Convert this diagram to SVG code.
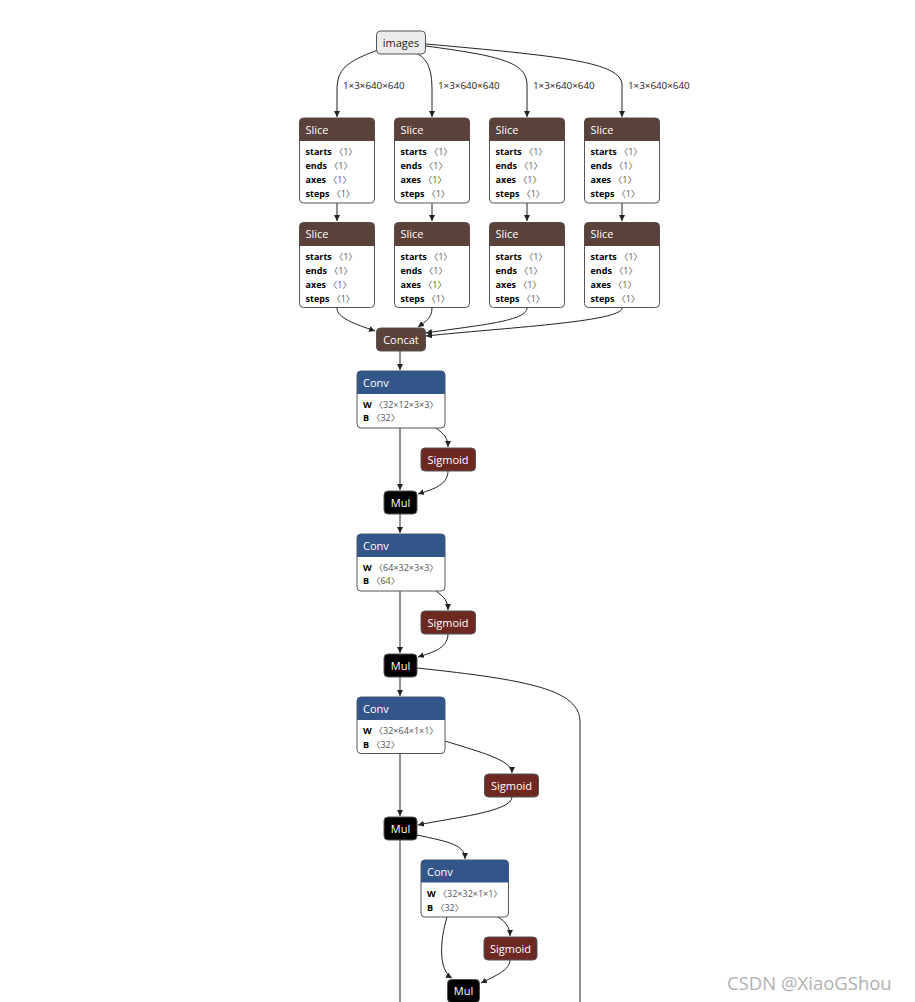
<svg xmlns="http://www.w3.org/2000/svg" width="915" height="1002" viewBox="0 0 915 1002">
<style>
text{font-family:"Open Sans","Noto Sans","Liberation Sans","Noto Sans CJK SC",sans-serif}
.bg{fill:#fff}
.box{fill:#fff;stroke:#555;stroke-width:1}
.hdr{stroke:none}
.slice{fill:#5a4139}
.conv{fill:#33568a}
.sig{fill:#6e2822;stroke:#555;stroke-width:1}
.mul{fill:#000;stroke:#555;stroke-width:1}
.cat{fill:#5a4139;stroke:#555;stroke-width:1}
.inp{fill:#ececec;stroke:#555;stroke-width:1}
.t{font-size:11px;fill:#fff}
.ti{font-size:11px;fill:#222}
.a{font-size:9px;fill:#000}
.an{font-weight:bold}
.av{fill:#555}
.el{font-size:9.8px;fill:#222}
.e{fill:none;stroke:#222;stroke-width:1;marker-end:url(#ah)}
.wm{font-size:18.5px;fill:#b0b0b0}
</style>
<defs>
<marker id="ah" markerWidth="7" markerHeight="7" refX="6" refY="3" orient="auto" markerUnits="userSpaceOnUse">
<path d="M0,0 L6,3 L0,6 Z" fill="#222"/>
</marker>
</defs>
<rect x="0" y="0" width="915" height="1002" class="bg"/>

<g id="connectors">
<path class="e" d="M378,50 C345,62 337,70 337,90 L337,117"/>
<path class="e" d="M418,54 C428,60 432,70 432,90 L432,117"/>
<path class="e" d="M426,46 C500,56 527,62 527,85 L527,117"/>
<path class="e" d="M426,44 C560,56 622,62 622,85 L622,117"/>
<path class="e" d="M337,203 L337,221"/>
<path class="e" d="M432,203 L432,221"/>
<path class="e" d="M527,203 L527,221"/>
<path class="e" d="M622,203 L622,221"/>
<path class="e" d="M337,308 C337,318 355,324 375,331"/>
<path class="e" d="M432,308 C432,318 425,322 418,327"/>
<path class="e" d="M527,308 C527,322 470,326 426,333"/>
<path class="e" d="M622,308 C622,322 500,328 426,336"/>
<path class="e" d="M400,351 L400,370"/>
<path class="e" d="M400,428 L400,490"/>
<path class="e" d="M436,428 C444,434 448,438 448,447"/>
<path class="e" d="M448,471 C448,486 430,490 418,494"/>
<path class="e" d="M400,514 L400,533"/>
<path class="e" d="M400,591 L400,653"/>
<path class="e" d="M436,591 C444,597 448,601 448,610"/>
<path class="e" d="M448,634 C448,649 430,653 418,657"/>
<path class="e" d="M400,677 L400,696"/>
<path fill="none" stroke="#222" stroke-width="1" d="M417,668 C530,680 580,690 580,722 L580,1002"/>
<path class="e" d="M400,753 L400,816"/>
<path class="e" d="M445,741 C480,752 512,760 512,773"/>
<path class="e" d="M512,797 C512,812 450,818 418,825"/>
<path fill="none" stroke="#222" stroke-width="1" d="M400,840 L400,1002"/>
<path class="e" d="M417,835 C450,842 465,845 465,859"/>
<path class="e" d="M447,917 C440,940 438,970 452,978"/>
<path class="e" d="M498,917 C506,922 510,928 510,936"/>
<path class="e" d="M510,960 C510,970 495,976 481,983"/>
<text class="el" x="343" y="88.5">1×3×640×640</text>
<text class="el" x="438" y="88.5">1×3×640×640</text>
<text class="el" x="533" y="88.5">1×3×640×640</text>
<text class="el" x="628" y="88.5">1×3×640×640</text>
</g>

<g id="images">
<rect class="inp" x="376.5" y="31" width="49" height="23" rx="4"/>
<text class="ti" x="401" y="46.5" text-anchor="middle">images</text>
</g>

<g id="slice1a">
<rect class="box" x="299.5" y="118" width="75" height="85" rx="4"/>
<path class="hdr slice" d="M299.5,141 V122 a4,4 0 0 1 4,-4 H370.5 a4,4 0 0 1 4,4 V141 Z"/>
<text class="t" x="305.5" y="133.5">Slice</text>
<text class="a" x="305.5" y="155"><tspan class="an">starts</tspan><tspan class="av"> 〈1〉</tspan></text>
<text class="a" x="305.5" y="169"><tspan class="an">ends</tspan><tspan class="av"> 〈1〉</tspan></text>
<text class="a" x="305.5" y="183"><tspan class="an">axes</tspan><tspan class="av"> 〈1〉</tspan></text>
<text class="a" x="305.5" y="197"><tspan class="an">steps</tspan><tspan class="av"> 〈1〉</tspan></text>
</g>
<g id="slice2a">
<rect class="box" x="394.5" y="118" width="75" height="85" rx="4"/>
<path class="hdr slice" d="M394.5,141 V122 a4,4 0 0 1 4,-4 H465.5 a4,4 0 0 1 4,4 V141 Z"/>
<text class="t" x="400.5" y="133.5">Slice</text>
<text class="a" x="400.5" y="155"><tspan class="an">starts</tspan><tspan class="av"> 〈1〉</tspan></text>
<text class="a" x="400.5" y="169"><tspan class="an">ends</tspan><tspan class="av"> 〈1〉</tspan></text>
<text class="a" x="400.5" y="183"><tspan class="an">axes</tspan><tspan class="av"> 〈1〉</tspan></text>
<text class="a" x="400.5" y="197"><tspan class="an">steps</tspan><tspan class="av"> 〈1〉</tspan></text>
</g>
<g id="slice3a">
<rect class="box" x="489.5" y="118" width="75" height="85" rx="4"/>
<path class="hdr slice" d="M489.5,141 V122 a4,4 0 0 1 4,-4 H560.5 a4,4 0 0 1 4,4 V141 Z"/>
<text class="t" x="495.5" y="133.5">Slice</text>
<text class="a" x="495.5" y="155"><tspan class="an">starts</tspan><tspan class="av"> 〈1〉</tspan></text>
<text class="a" x="495.5" y="169"><tspan class="an">ends</tspan><tspan class="av"> 〈1〉</tspan></text>
<text class="a" x="495.5" y="183"><tspan class="an">axes</tspan><tspan class="av"> 〈1〉</tspan></text>
<text class="a" x="495.5" y="197"><tspan class="an">steps</tspan><tspan class="av"> 〈1〉</tspan></text>
</g>
<g id="slice4a">
<rect class="box" x="584.5" y="118" width="75" height="85" rx="4"/>
<path class="hdr slice" d="M584.5,141 V122 a4,4 0 0 1 4,-4 H655.5 a4,4 0 0 1 4,4 V141 Z"/>
<text class="t" x="590.5" y="133.5">Slice</text>
<text class="a" x="590.5" y="155"><tspan class="an">starts</tspan><tspan class="av"> 〈1〉</tspan></text>
<text class="a" x="590.5" y="169"><tspan class="an">ends</tspan><tspan class="av"> 〈1〉</tspan></text>
<text class="a" x="590.5" y="183"><tspan class="an">axes</tspan><tspan class="av"> 〈1〉</tspan></text>
<text class="a" x="590.5" y="197"><tspan class="an">steps</tspan><tspan class="av"> 〈1〉</tspan></text>
</g>

<g id="slice1b">
<rect class="box" x="299.5" y="222.5" width="75" height="85" rx="4"/>
<path class="hdr slice" d="M299.5,246 V226.5 a4,4 0 0 1 4,-4 H370.5 a4,4 0 0 1 4,4 V246 Z"/>
<text class="t" x="305.5" y="238">Slice</text>
<text class="a" x="305.5" y="260"><tspan class="an">starts</tspan><tspan class="av"> 〈1〉</tspan></text>
<text class="a" x="305.5" y="274"><tspan class="an">ends</tspan><tspan class="av"> 〈1〉</tspan></text>
<text class="a" x="305.5" y="288"><tspan class="an">axes</tspan><tspan class="av"> 〈1〉</tspan></text>
<text class="a" x="305.5" y="302"><tspan class="an">steps</tspan><tspan class="av"> 〈1〉</tspan></text>
</g>
<g id="slice2b">
<rect class="box" x="394.5" y="222.5" width="75" height="85" rx="4"/>
<path class="hdr slice" d="M394.5,246 V226.5 a4,4 0 0 1 4,-4 H465.5 a4,4 0 0 1 4,4 V246 Z"/>
<text class="t" x="400.5" y="238">Slice</text>
<text class="a" x="400.5" y="260"><tspan class="an">starts</tspan><tspan class="av"> 〈1〉</tspan></text>
<text class="a" x="400.5" y="274"><tspan class="an">ends</tspan><tspan class="av"> 〈1〉</tspan></text>
<text class="a" x="400.5" y="288"><tspan class="an">axes</tspan><tspan class="av"> 〈1〉</tspan></text>
<text class="a" x="400.5" y="302"><tspan class="an">steps</tspan><tspan class="av"> 〈1〉</tspan></text>
</g>
<g id="slice3b">
<rect class="box" x="489.5" y="222.5" width="75" height="85" rx="4"/>
<path class="hdr slice" d="M489.5,246 V226.5 a4,4 0 0 1 4,-4 H560.5 a4,4 0 0 1 4,4 V246 Z"/>
<text class="t" x="495.5" y="238">Slice</text>
<text class="a" x="495.5" y="260"><tspan class="an">starts</tspan><tspan class="av"> 〈1〉</tspan></text>
<text class="a" x="495.5" y="274"><tspan class="an">ends</tspan><tspan class="av"> 〈1〉</tspan></text>
<text class="a" x="495.5" y="288"><tspan class="an">axes</tspan><tspan class="av"> 〈1〉</tspan></text>
<text class="a" x="495.5" y="302"><tspan class="an">steps</tspan><tspan class="av"> 〈1〉</tspan></text>
</g>
<g id="slice4b">
<rect class="box" x="584.5" y="222.5" width="75" height="85" rx="4"/>
<path class="hdr slice" d="M584.5,246 V226.5 a4,4 0 0 1 4,-4 H655.5 a4,4 0 0 1 4,4 V246 Z"/>
<text class="t" x="590.5" y="238">Slice</text>
<text class="a" x="590.5" y="260"><tspan class="an">starts</tspan><tspan class="av"> 〈1〉</tspan></text>
<text class="a" x="590.5" y="274"><tspan class="an">ends</tspan><tspan class="av"> 〈1〉</tspan></text>
<text class="a" x="590.5" y="288"><tspan class="an">axes</tspan><tspan class="av"> 〈1〉</tspan></text>
<text class="a" x="590.5" y="302"><tspan class="an">steps</tspan><tspan class="av"> 〈1〉</tspan></text>
</g>

<g id="concat">
<rect class="cat" x="376.5" y="328" width="49" height="23" rx="4"/>
<text class="t" x="401" y="343.5" text-anchor="middle">Concat</text>
</g>

<g id="conv1">
<rect class="box" x="357" y="371" width="88" height="57" rx="4"/>
<path class="hdr conv" d="M357,394 V375 a4,4 0 0 1 4,-4 H441 a4,4 0 0 1 4,4 V394 Z"/>
<text class="t" x="363" y="386.5">Conv</text>
<text class="a" x="363" y="407.5"><tspan class="an">W</tspan><tspan class="av"> 〈32×12×3×3〉</tspan></text>
<text class="a" x="363" y="421"><tspan class="an">B</tspan><tspan class="av"> 〈32〉</tspan></text>
</g>
<g id="sigmoid1">
<rect class="sig" x="421" y="448" width="54.5" height="23" rx="4"/>
<text class="t" x="448" y="463.5" text-anchor="middle">Sigmoid</text>
</g>
<g id="mul1">
<rect class="mul" x="384" y="491" width="33" height="23" rx="4"/>
<text class="t" x="400.5" y="506.5" text-anchor="middle">Mul</text>
</g>

<g id="conv2">
<rect class="box" x="357" y="534" width="88" height="57" rx="4"/>
<path class="hdr conv" d="M357,557 V538 a4,4 0 0 1 4,-4 H441 a4,4 0 0 1 4,4 V557 Z"/>
<text class="t" x="363" y="549.5">Conv</text>
<text class="a" x="363" y="570.5"><tspan class="an">W</tspan><tspan class="av"> 〈64×32×3×3〉</tspan></text>
<text class="a" x="363" y="584"><tspan class="an">B</tspan><tspan class="av"> 〈64〉</tspan></text>
</g>
<g id="sigmoid2">
<rect class="sig" x="421" y="611" width="54.5" height="23" rx="4"/>
<text class="t" x="448" y="626.5" text-anchor="middle">Sigmoid</text>
</g>
<g id="mul2">
<rect class="mul" x="384" y="654" width="33" height="23" rx="4"/>
<text class="t" x="400.5" y="669.5" text-anchor="middle">Mul</text>
</g>

<g id="conv3">
<rect class="box" x="357" y="697" width="88" height="56.5" rx="4"/>
<path class="hdr conv" d="M357,720 V701 a4,4 0 0 1 4,-4 H441 a4,4 0 0 1 4,4 V720 Z"/>
<text class="t" x="363" y="712.5">Conv</text>
<text class="a" x="363" y="734"><tspan class="an">W</tspan><tspan class="av"> 〈32×64×1×1〉</tspan></text>
<text class="a" x="363" y="747.5"><tspan class="an">B</tspan><tspan class="av"> 〈32〉</tspan></text>
</g>
<g id="sigmoid3">
<rect class="sig" x="484.5" y="774" width="54" height="23" rx="4"/>
<text class="t" x="511.5" y="789.5" text-anchor="middle">Sigmoid</text>
</g>
<g id="mul3">
<rect class="mul" x="384" y="817" width="33" height="23" rx="4"/>
<text class="t" x="400.5" y="832.5" text-anchor="middle">Mul</text>
</g>

<g id="conv4">
<rect class="box" x="421" y="860" width="87.5" height="57" rx="4"/>
<path class="hdr conv" d="M421,882.5 V864 a4,4 0 0 1 4,-4 H504.5 a4,4 0 0 1 4,4 V882.5 Z"/>
<text class="t" x="427" y="875.5">Conv</text>
<text class="a" x="427" y="896.5"><tspan class="an">W</tspan><tspan class="av"> 〈32×32×1×1〉</tspan></text>
<text class="a" x="427" y="910.5"><tspan class="an">B</tspan><tspan class="av"> 〈32〉</tspan></text>
</g>
<g id="sigmoid4">
<rect class="sig" x="484" y="937" width="53" height="23" rx="4"/>
<text class="t" x="510.5" y="952.5" text-anchor="middle">Sigmoid</text>
</g>
<g id="mul4">
<rect class="mul" x="447.5" y="979.5" width="32" height="23" rx="4"/>
<text class="t" x="463.5" y="995" text-anchor="middle">Mul</text>
</g>

<text class="wm" x="727" y="990">CSDN @XiaoGShou</text>
</svg>
